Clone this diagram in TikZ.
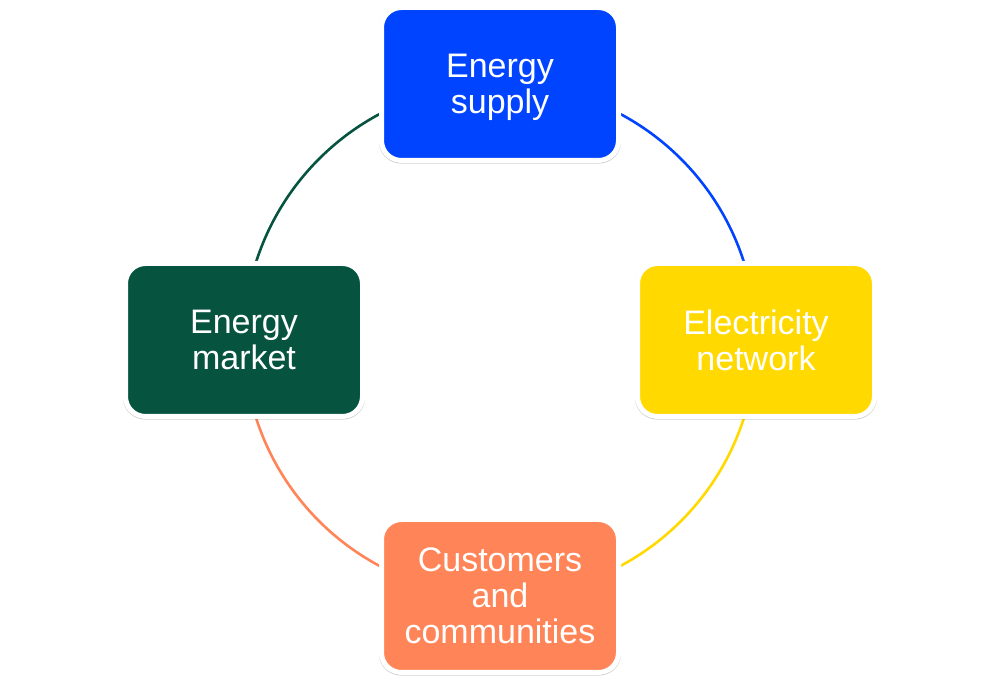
\documentclass[tikz,border=0pt]{standalone}
\usepackage{fontspec}
\setmainfont{Liberation Sans}
\usetikzlibrary{shadows}
\definecolor{cblue}{RGB}{0,68,255}
\definecolor{cyellow}{RGB}{255,217,0}
\definecolor{cgreen}{RGB}{6,84,64}
\definecolor{corange}{RGB}{255,133,89}
\tikzset{
  box/.style={draw=white, line width=5pt, rounded corners=20pt,
    minimum width=237pt, minimum height=153pt, align=center,
    text=white, font=\fontsize{34}{36}\selectfont,
    general shadow={shadow xshift=0pt, shadow yshift=-1pt, shadow scale=1.02, opacity=0.15, fill=black},
    drop shadow={shadow xshift=0pt, shadow yshift=-3pt, opacity=0.25, fill=black}},
  ring/.style={line width=2.6pt}
}
\begin{document}
\begin{tikzpicture}[x=1pt,y=1pt]
\useasboundingbox (0,0) rectangle (999,685);
\coordinate (c) at (500,345);
\coordinate (pS) at (500,601);
\coordinate (pN) at (756,345);
\coordinate (pC) at (500,89);
\coordinate (pM) at (244,345);
\draw[ring, cblue] (pS) arc[start angle=90, end angle=0, radius=256];
\draw[ring, cyellow] (pN) arc[start angle=0, end angle=-90, radius=256];
\draw[ring, corange] (pC) arc[start angle=-90, end angle=-180, radius=256];
\draw[ring, cgreen] (pM) arc[start angle=180, end angle=90, radius=256];
\node[box, fill=cblue] (sup) at (pS) {Energy\\\smash{supply}};
\node[box, fill=cyellow] (net) at (pN) {Electricity\\network};
\node[box, fill=corange] (cus) at (pC) {Customers\\and\\communities};
\node[box, fill=cgreen] (mkt) at (pM) {Energy\\market};
\end{tikzpicture}
\end{document}
